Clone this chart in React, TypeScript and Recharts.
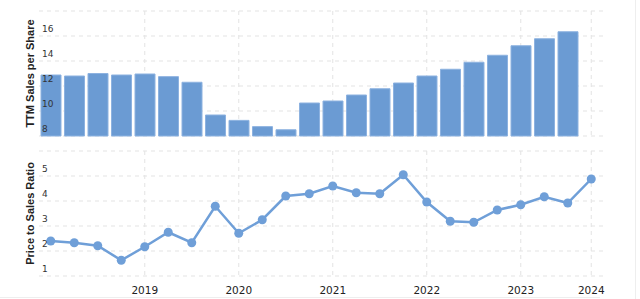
import { Bar, CartesianGrid, ComposedChart, Line, XAxis, YAxis } from "recharts";

const quarters = [
  "2018-Q1", "2018-Q2", "2018-Q3", "2018-Q4", "2019-Q1", "2019-Q2", "2019-Q3", "2019-Q4",
  "2020-Q1", "2020-Q2", "2020-Q3", "2020-Q4", "2021-Q1", "2021-Q2", "2021-Q3", "2021-Q4",
  "2022-Q1", "2022-Q2", "2022-Q3", "2022-Q4", "2023-Q1", "2023-Q2", "2023-Q3", "2023-Q4",
];

const salesPerShare = [
  12.88, 12.8, 13.0, 12.88, 12.96, 12.75, 12.3, 9.68, 9.25, 8.75, 8.5, 10.64,
  10.8, 11.28, 11.78, 12.24, 12.8, 13.34, 13.9, 14.46, 15.22, 15.78, 16.34, null,
];

const priceToSales = [
  2.4, 2.33, 2.21, 1.63, 2.17, 2.75, 2.33, 3.79, 2.71, 3.25, 4.2, 4.29,
  4.6, 4.33, 4.29, 5.05, 3.96, 3.19, 3.15, 3.64, 3.85, 4.17, 3.92, 4.88,
];

const yearTicks = [4, 8, 12, 16, 20, 23];
const yearLabels = ["2019", "2020", "2021", "2022", "2023", "2024"];

const salesTicks = [8, 10, 12, 14, 16, 18];
const ratioTicks = [1, 2, 3, 4, 5, 6];

const data = quarters.map((q, i) => ({
  i,
  q,
  sales: salesPerShare[i],
  ratio: priceToSales[i],
}));

const BLUE = "#6b9bd3";
const GRID = "#e3e3e3";
const FONT = "'DejaVu Sans', Verdana, sans-serif";
const X_DOMAIN: [number, number] = [-0.5, 23.5];

function InsideTick(props: any) {
  const { y, payload, last } = props;
  if (payload.value === last) return null;
  return (
    <text x={42} y={y - 4} fontSize={9} fontFamily={FONT} fill="#333" textAnchor="start">
      {payload.value}
    </text>
  );
}

function YearTick(props: any) {
  const { x, y, payload } = props;
  const idx = yearTicks.indexOf(payload.value);
  return (
    <text x={x} y={y + 10} fontSize={10.5} fontFamily={FONT} fill="#222" textAnchor="middle">
      {yearLabels[idx]}
    </text>
  );
}

const axisLabel = (value: string) => ({
  value,
  angle: -90,
  position: "insideLeft" as const,
  offset: 30,
  style: {
    fontSize: 11,
    fontWeight: "bold",
    fontFamily: "'Liberation Sans', Arial, sans-serif",
    fill: "#222",
    textAnchor: "middle",
  },
});

// vertical grid only at the year ticks
const yearGrid = ({ xAxis, offset }: any) =>
  yearTicks.map((t) =>
    typeof xAxis?.scale === "function"
      ? xAxis.scale(t)
      : offset.left + ((t - X_DOMAIN[0]) / (X_DOMAIN[1] - X_DOMAIN[0])) * offset.width
  );

export default function App() {
  return (
    <div style={{ position: "absolute", left: 0, top: 0, width: 640, height: 299, background: "#fff" }}>
      <div style={{ position: "absolute", left: 635, top: 0, width: 1, height: 299, background: "#eee" }} />
      <div style={{ position: "absolute", left: 0, top: 297, width: 600, height: 1, background: "#eee" }} />
      <ComposedChart
        width={640}
        height={145}
        data={data}
        margin={{ top: 11, right: 37, bottom: 9, left: 0 }}
        style={{ position: "absolute", left: 0, top: 0 }}
      >
        <CartesianGrid stroke={GRID} strokeDasharray="4 4" verticalCoordinatesGenerator={yearGrid} />
        <XAxis
          dataKey="i"
          type="number"
          domain={X_DOMAIN}
          ticks={yearTicks}
          interval={0}
          height={0}
          tick={false}
          axisLine={false}
          tickLine={false}
        />
        <Bar dataKey="sales" fill={BLUE} stroke="#8db2e0" strokeWidth={1} barSize={20} isAnimationActive={false} />
        <YAxis
          domain={[8, 18]}
          ticks={salesTicks}
          interval={0}
          width={39}
          axisLine={false}
          tickLine={false}
          tick={<InsideTick last={18} />}
          label={axisLabel("TTM Sales per Share")}
        />
      </ComposedChart>
      <ComposedChart
        width={640}
        height={154}
        data={data}
        margin={{ top: 6, right: 37, bottom: 0, left: 0 }}
        style={{ position: "absolute", left: 0, top: 145 }}
      >
        <CartesianGrid stroke={GRID} strokeDasharray="4 4" verticalCoordinatesGenerator={yearGrid} />
        <XAxis
          dataKey="i"
          type="number"
          domain={X_DOMAIN}
          ticks={yearTicks}
          interval={0}
          height={23}
          axisLine={false}
          tickLine={false}
          tick={<YearTick />}
        />
        <YAxis
          domain={[1, 6]}
          ticks={ratioTicks}
          interval={0}
          width={39}
          axisLine={false}
          tickLine={false}
          tick={<InsideTick last={6} />}
          label={axisLabel("Price to Sales Ratio")}
        />
        <Line
          dataKey="ratio"
          stroke="#6f9fd8"
          strokeWidth={2.5}
          dot={{ r: 4.5, fill: "#6f9fd8", stroke: "#6f9fd8", strokeWidth: 0 }}
          isAnimationActive={false}
        />
      </ComposedChart>
    </div>
  );
}
